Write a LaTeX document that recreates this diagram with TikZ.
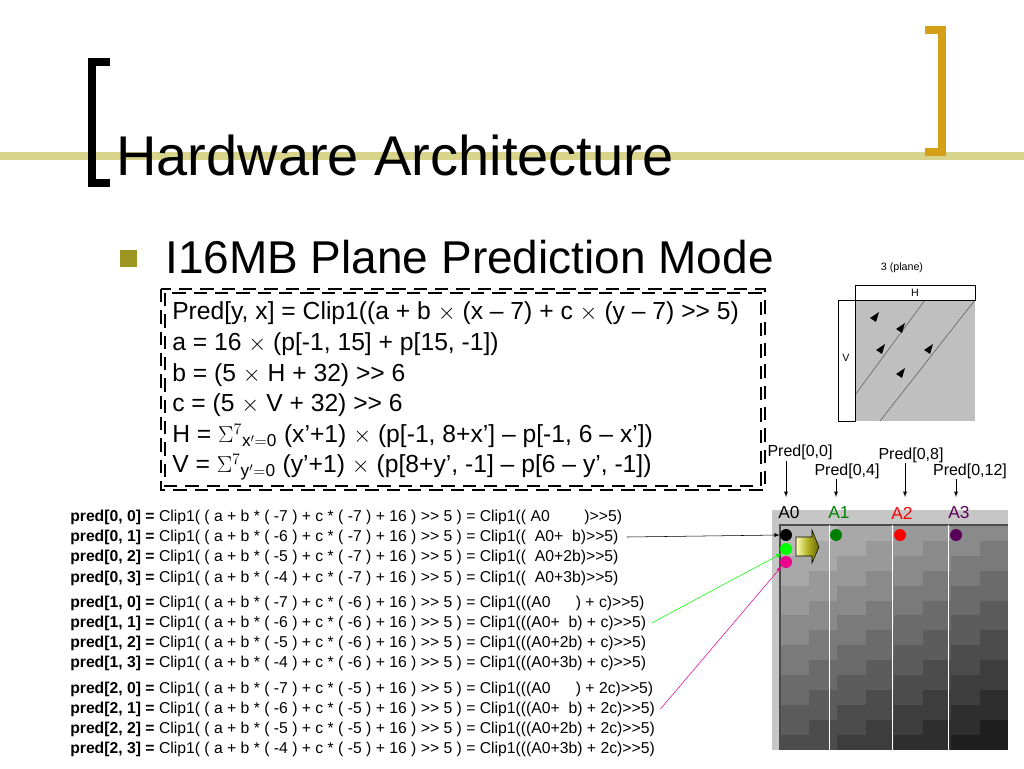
\documentclass[tikz,border=0pt]{standalone}
\usepackage{fontspec}
\setmainfont{Liberation Sans}
\newcommand{\shr}{{>}{>}}
\newcommand{\pq}[4]{\textbf{pred[#1] =} Clip1( ( a + b * ( #2 ) + c * ( #3 ) + 16 ) \shr{} 5 ) = Clip1(#4}
\begin{document}
\begin{tikzpicture}[x=0.75pt,y=-0.75pt,
  fl/.style={anchor=west,inner sep=0pt,font=\fontsize{18.5}{18.5}\selectfont},
  pl/.style={anchor=west,inner sep=0pt,font=\fontsize{11.8}{11.8}\selectfont},
  pr/.style={anchor=center,inner sep=0pt,font=\fontsize{12}{12}\selectfont},
  dot/.style={circle,fill,inner sep=0pt,minimum size=9pt},
  dbx/.style={dash pattern=on 10pt off 6pt,line width=0.8pt}]
\useasboundingbox (0,0) rectangle (1024,768);
\fill[white] (0,0) rectangle (1024,768);
% title bar and brackets
\fill[olive!35!white] (0,152) rectangle (1024,160);
\draw[line width=6pt] (110,62) -- (92,62) -- (92,183) -- (110,183);
\draw[line width=6pt,color={rgb,255:red,212;green,160;blue,23}] (925,30) -- (942,30) -- (942,152) -- (925,152);
\node[anchor=base west,inner sep=0pt,font=\fontsize{42}{42}\selectfont] (title) at (116,175) {Hardware Architecture};
% bullet
\fill[olive!60!yellow!80!black] (120,250) rectangle (137,267);
\node[anchor=base west,inner sep=0pt,font=\fontsize{34.5}{34.5}\selectfont] (sub) at (165,273) {I16MB Plane Prediction Mode};
% dashed double box
\draw[dbx] (161,289) rectangle (765,490);
\draw[dbx] (165,293) rectangle (761,486);
\node[fl] (l1) at (172,313) {Pred[y, x] = Clip1((a + b $\times$ (x -- 7) + c $\times$ (y -- 7) \shr{} 5)};
\node[fl] (l2) at (172,344) {a = 16 $\times$ (p[-1, 15] + p[15, -1])};
\node[fl] (l3) at (172,375) {b = (5 $\times$ H + 32) \shr{} 6};
\node[fl] (l4) at (172,405) {c = (5 $\times$ V + 32) \shr{} 6};
\node[fl] (l5) at (172,436) {H = $\Sigma^{7}{}_{\mathrm{x'=0}}$ (x'+1) $\times$ (p[-1, 8+x'] -- p[-1, 6 -- x'])};
\node[fl] (l6) at (172,467) {V = $\Sigma^{7}{}_{\mathrm{y'=0}}$ (y'+1) $\times$ (p[8+y', -1] -- p[6 -- y', -1])};
% plane diagram
\node[font=\fontsize{8}{8}\selectfont] (pl3) at (902,268) {3 (plane)};
\fill[gray!50] (855,300) rectangle (975,421);
\draw[thin,gray!70!black] (855,395) -- (925,300) (880,421) -- (975,300);
\draw (855,285) rectangle (975,300);
\node[font=\fontsize{8}{8}\selectfont] (hh) at (915,293) {H};
\draw (838,300) rectangle (855,421);
\node[font=\fontsize{8}{8}\selectfont] (vv) at (846,358) {V};
\foreach \x/\y in {870/318,896/329,876/350,924/350,896/374}
  \fill (\x,\y) -- ++(9,-6) -- ++(-3,10) -- cycle;
% block
\fill[gray!45] (772,510) rectangle (1008,750);
\foreach \i in {0,...,15}{
  \foreach \j in {0,...,14}{
    \pgfmathtruncatemacro{\lv}{max(6,min(75,72-int((\i+2*\j)/4)*6))}
    \fill[white!\lv!black] (780+\i*14.25,526+\j*14.9) rectangle ++(14.5,15.1);
  }}
\draw[gray!60!black,thick] (780,750) -- (780,525) -- (1008,525);
\foreach \x in {829,892,948} \draw[white] (\x,525) -- (\x,750);
\node[font=\fontsize{13}{13}\selectfont] (a0) at (789,513) {A0};
\node[font=\fontsize{13}{13}\selectfont,color=green!50!black] (a1) at (839,513) {A1};
\node[font=\fontsize{13}{13}\selectfont,color=red] (a2) at (902,513) {A2};
\node[font=\fontsize{13}{13}\selectfont,color=violet!70!black] (a3) at (959,513) {A3};
\node[pr] (p00) at (800,452) {Pred[0,0]};
\node[pr] (p04) at (847,471) {Pred[0,4]};
\node[pr] (p08) at (911,455) {Pred[0,8]};
\node[pr] (p012) at (970,471) {Pred[0,12]};
\coordinate (t0) at (786,497); \coordinate (t1) at (836,497);
\coordinate (t2) at (905,497); \coordinate (t3) at (956,497);
\draw[-latex] (786,461) -- (t0);
\draw[-latex] (836,479) -- (t1);
\draw[-latex] (905,463) -- (t2);
\draw[-latex] (956,479) -- (t3);
\node[dot,fill=black] (d0) at (786,535) {};
\node[dot,fill=green!50!black] (d1) at (836,535) {};
\node[dot,fill=red] (d2) at (900,535) {};
\node[dot,fill=violet!70!black] (d3) at (956,535) {};
\node[dot,fill=green] (dg) at (786,549) {};
\node[dot,fill=magenta] (dm) at (786,562) {};
\shade[left color=yellow!30!white,right color=olive!80!black,draw=black] (796,537) -- (812,537) -- (812,530) -- (819,547) -- (812,563) -- (812,556) -- (796,556) -- cycle;
% bottom formulas
\node[pl] (c1) at (70,517) {\pq{0, 0}{-7}{-7}{( A0\hspace{2.2em})\shr5)}};
\node[pl] (c2) at (70,537) {\pq{0, 1}{-6}{-7}{(\ \ A0+\ \ b)\shr5)}};
\node[pl] (c3) at (70,557) {\pq{0, 2}{-5}{-7}{(\ \ A0+2b)\shr5)}};
\node[pl] (c4) at (70,578) {\pq{0, 3}{-4}{-7}{(\ \ A0+3b)\shr5)}};
\node[pl] (c5) at (70,603) {\pq{1, 0}{-7}{-6}{((A0\hspace{1.6em}) + c)\shr5)}};
\node[pl] (c6) at (70,623) {\pq{1, 1}{-6}{-6}{((A0+\ \ b) + c)\shr5)}};
\node[pl] (c7) at (70,643) {\pq{1, 2}{-5}{-6}{((A0+2b) + c)\shr5)}};
\node[pl] (c8) at (70,663) {\pq{1, 3}{-4}{-6}{((A0+3b) + c)\shr5)}};
\node[pl] (c9) at (70,689) {\pq{2, 0}{-7}{-5}{((A0\hspace{1.6em}) + 2c)\shr5)}};
\node[pl] (c10) at (70,709) {\pq{2, 1}{-6}{-5}{((A0+\ \ b) + 2c)\shr5)}};
\node[pl] (c11) at (70,729) {\pq{2, 2}{-5}{-5}{((A0+2b) + 2c)\shr5)}};
\node[pl] (c12) at (70,749) {\pq{2, 3}{-4}{-5}{((A0+3b) + 2c)\shr5)}};
% connectors
\draw[-latex] ([xshift=6pt]c2.east) -- (d0.west);
\draw[-latex,green] ([xshift=4pt]c6.east) -- (dg.south west);
\draw[-latex,magenta] ([xshift=4pt]c10.east) -- (dm.south west);
\end{tikzpicture}
\end{document}
